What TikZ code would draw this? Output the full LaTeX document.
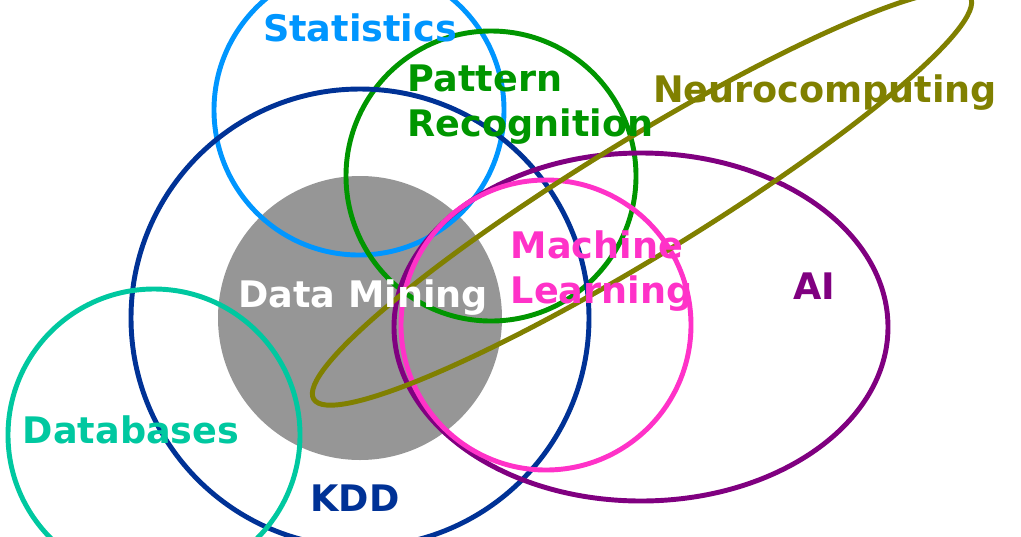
\documentclass[tikz,border=0pt]{standalone}
\usepackage{fontspec}
\setmainfont{DejaVu Sans}
\begin{document}
\begin{tikzpicture}[x=0.01cm,y=-0.01cm,
  ring/.style={line width=1.4pt},
  lab/.style={font=\bfseries\fontsize{10.4}{12.8}\selectfont, inner sep=0pt}]
\definecolor{cstat}{RGB}{0,150,255}
\definecolor{cpat}{RGB}{0,150,0}
\definecolor{ckdd}{RGB}{0,50,150}
\definecolor{cdb}{RGB}{0,200,160}
\definecolor{cai}{RGB}{128,0,128}
\definecolor{cml}{RGB}{255,50,200}
\definecolor{cneu}{RGB}{128,128,0}
\useasboundingbox (0,0) rectangle (1021,536);
\clip (0,0) rectangle (1021,536);
\fill[white] (0,0) rectangle (1021,536);
\fill[black!41] (360,318) circle[radius=142];
\draw[ring,cstat] (359,110) circle[radius=145];
\draw[ring,cpat] (491,176) circle[radius=145];
\draw[ring,ckdd] (360,318) circle[radius=229];
\draw[ring,cdb] (154,435) circle[radius=146];
\draw[ring,cai] (641,327) ellipse[x radius=247,y radius=174];
\draw[ring,cml] (546,325) circle[radius=145];
\draw[ring,cneu,rotate around={31.5:(642,198)}] (642,198) ellipse[x radius=385,y radius=58];
\node[lab,cstat] (st) at (360,28) {Statistics};
\node[lab,cpat,align=left,anchor=west] (pr) at (407,105) {Pattern\\Recognition};
\node[lab,cneu] (ne) at (825,93) {Neurocomputing};
\node[lab,cml,align=left,anchor=west] (ml) at (510,271) {Machine\\Learning};
\node[lab,cai] (ai) at (814,286) {AI};
\node[lab,white] (dm) at (363,298) {Data Mining};
\node[lab,cdb] (db) at (131,430) {Databases};
\node[lab,ckdd] (kdd) at (355,498) {KDD};
\end{tikzpicture}
\end{document}
